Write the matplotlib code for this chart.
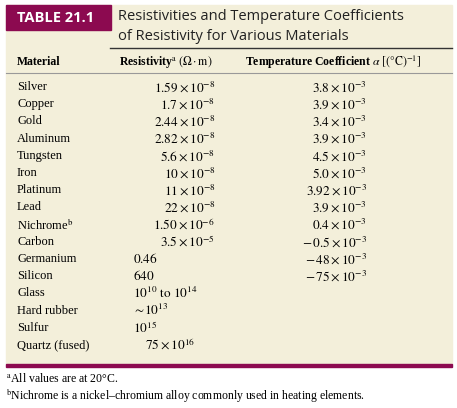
import matplotlib.pyplot as plt
from matplotlib.patches import Rectangle

plt.rcParams['mathtext.fontset'] = 'stix'
plt.rcParams['font.family'] = 'Liberation Serif'

materials = ["Silver", "Copper", "Gold", "Aluminum", "Tungsten", "Iron", "Platinum", "Lead",
             "Nichrome$^{\\mathrm{b}}$", "Carbon", "Germanium", "Silicon", "Glass", "Hard rubber",
             "Sulfur", "Quartz (fused)"]
resistivity = ["1.59 \\times 10^{-8}", "1.7 \\times 10^{-8}", "2.44 \\times 10^{-8}", "2.82 \\times 10^{-8}",
               "5.6 \\times 10^{-8}", "10 \\times 10^{-8}", "11 \\times 10^{-8}", "22 \\times 10^{-8}",
               "1.50 \\times 10^{-6}", "3.5 \\times 10^{-5}", "0.46", "640", "10^{10}\\ \\mathrm{to}\\ 10^{14}",
               "\\sim\\!10^{13}", "10^{15}", "75 \\times 10^{16}"]
alpha = ["3.8 \\times 10^{-3}", "3.9 \\times 10^{-3}", "3.4 \\times 10^{-3}", "3.9 \\times 10^{-3}",
         "4.5 \\times 10^{-3}", "5.0 \\times 10^{-3}", "3.92 \\times 10^{-3}", "3.9 \\times 10^{-3}",
         "0.4 \\times 10^{-3}", "-\\,0.5 \\times 10^{-3}", "-\\,48 \\times 10^{-3}", "-\\,75 \\times 10^{-3}",
         "", "", "", ""]

magenta = "#8c0a50"
fig = plt.figure(figsize=(4.57, 4.08), dpi=100)
ax = fig.add_axes([0, 0, 1, 1])
ax.set_xlim(0, 457)
ax.set_ylim(408, 0)
ax.axis("off")

ax.add_patch(Rectangle((6, 5), 446, 359, color="#f3efda", zorder=0))
ax.add_patch(Rectangle((6, 5), 105, 25, color=magenta, zorder=1))
ax.text(17, 18, "TABLE 21.1", color="white", fontsize=10.5, fontweight="bold",
        family="Open Sans", va="center")
ax.text(118, 17, "Resistivities and Temperature Coefficients", fontsize=10.5, family="Open Sans", va="center", color="#222")
ax.text(118, 37, "of Resistivity for Various Materials", fontsize=10.5, family="Open Sans", va="center", color="#222")
ax.plot([110, 452], [48, 48], color="#333", lw=1)
ax.text(17, 62, "Material", fontsize=8.5, fontweight="bold", va="center")
ax.text(119, 62, "Resistivity$^{\\mathrm{a}}$ $(\\Omega\\cdot\\mathrm{m})$", fontsize=8.5, fontweight="bold", va="center")
ax.text(245, 62, "Temperature Coefficient $\\alpha$ $[(°\\mathrm{C})^{-1}]$", fontsize=8.5, fontweight="bold", va="center")
ax.plot([6, 452], [73, 73], color="#999", lw=0.8)

for i, (m, r, a) in enumerate(zip(materials, resistivity, alpha)):
    y = 87 + i * 17.2
    ax.text(17, y, m, fontsize=9, va="center")
    if i < 10:
        ax.text(215, y, "$" + r + "$", fontsize=9.5, va="center", ha="right")
    elif i == 15:
        ax.text(145, y, "$" + r + "$", fontsize=9.5, va="center")
    else:
        ax.text(133, y, "$" + r + "$", fontsize=9.5, va="center")
    if a:
        ax.text(367, y, "$" + a + "$", fontsize=9.5, va="center", ha="right")

ax.add_patch(Rectangle((6, 364), 446, 3, color=magenta, zorder=1))
ax.text(6, 379, "$^{\\mathrm{a}}$All values are at 20°C.", fontsize=8.5, va="center")
ax.text(6, 395, "$^{\\mathrm{b}}$Nichrome is a nickel–chromium alloy commonly used in heating elements.", fontsize=8.5, va="center")

fig.savefig("out.png", dpi=100)
